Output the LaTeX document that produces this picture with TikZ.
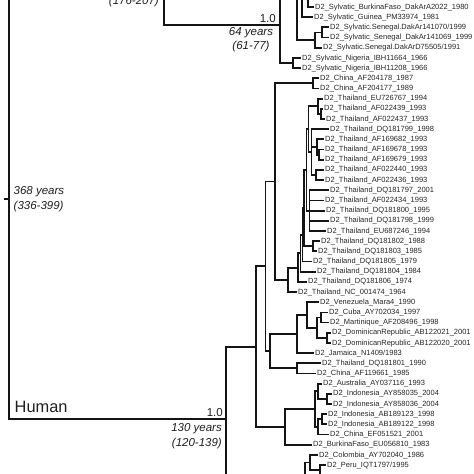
\documentclass[tikz,border=0pt]{standalone}
\usepackage{fontspec}
\setmainfont{Liberation Sans}
\begin{document}
\begin{tikzpicture}[x=1pt,y=-1pt,
  br/.style={line width=1.8pt, line cap=rect, draw=black!92},
  lab/.style={anchor=west, inner xsep=2pt, inner ysep=0pt, font=\fontsize{7.5}{8}\selectfont, text=black!85, text height=5.4pt, text depth=1.2pt},
  ital/.style={font=\fontsize{11.5}{14.5}\selectfont\itshape, inner sep=0pt, text=black!88},
  supp/.style={font=\fontsize{11.5}{13}\selectfont, inner sep=0pt, text=black!88}]
\clip (0,0) rectangle (474,474);
\begin{scope}[yshift=-7pt, y=-10.18pt]
% tip labels
\node[lab] (t0) at (313,0) {D2\_Sylvatic\_BurkinaFaso\_DakArA2022\_1980};
\node[lab] (t1) at (312,1) {D2\_Sylvatic\_Guinea\_PM33974\_1981};
\node[lab] (t2) at (328,2) {D2\_Sylvatic.Senegal.DakAr141070/1999};
\node[lab] (t3) at (328,3) {D2\_Sylvatic\_Senegal\_DakAr141069\_1999};
\node[lab] (t4) at (321,4) {D2\_Sylvatic.Senegal.DakArD75505/1991};
\node[lab] (t5) at (300,5) {D2\_Sylvatic\_Nigeria\_IBH11664\_1966};
\node[lab] (t6) at (300,6) {D2\_Sylvatic\_Nigeria\_IBH11208\_1966};
\node[lab] (t7) at (318,7) {D2\_China\_AF204178\_1987};
\node[lab] (t8) at (318,8) {D2\_China\_AF204177\_1989};
\node[lab] (t9) at (322,9) {D2\_Thailand\_EU726767\_1994};
\node[lab] (t10) at (322,10) {D2\_Thailand\_AF022439\_1993};
\node[lab] (t11) at (324,11) {D2\_Thailand\_AF022437\_1993};
\node[lab] (t12) at (328,12) {D2\_Thailand\_DQ181799\_1998};
\node[lab] (t13) at (323,13) {D2\_Thailand\_AF169682\_1993};
\node[lab] (t14) at (323,14) {D2\_Thailand\_AF169678\_1993};
\node[lab] (t15) at (323,15) {D2\_Thailand\_AF169679\_1993};
\node[lab] (t16) at (323,16) {D2\_Thailand\_AF022440\_1993};
\node[lab] (t17) at (323,17) {D2\_Thailand\_AF022436\_1993};
\node[lab] (t18) at (328,18) {D2\_Thailand\_DQ181797\_2001};
\node[lab] (t19) at (323,19) {D2\_Thailand\_AF022434\_1993};
\node[lab] (t20) at (324,20) {D2\_Thailand\_DQ181800\_1995};
\node[lab] (t21) at (328,21) {D2\_Thailand\_DQ181798\_1999};
\node[lab] (t22) at (325,22) {D2\_Thailand\_EU687246\_1994};
\node[lab] (t23) at (319,23) {D2\_Thailand\_DQ181802\_1988};
\node[lab] (t24) at (316,24) {D2\_Thailand\_DQ181803\_1985};
\node[lab] (t25) at (311,25) {D2\_Thailand\_DQ181805\_1979};
\node[lab] (t26) at (315,26) {D2\_Thailand\_DQ181804\_1984};
\node[lab] (t27) at (306,27) {D2\_Thailand\_DQ181806\_1974};
\node[lab] (t28) at (296,28) {D2\_Thailand\_NC\_001474\_1964};
\node[lab] (t29) at (318,29) {D2\_Venezuela\_Mara4\_1990};
\node[lab] (t30) at (327,30) {D2\_Cuba\_AY702034\_1997};
\node[lab] (t31) at (328,31) {D2\_Martinique\_AF208496\_1998};
\node[lab] (t32) at (330,32) {D2\_DominicanRepublic\_AB122021\_2001};
\node[lab] (t33) at (330,33) {D2\_DominicanRepublic\_AB122020\_2001};
\node[lab] (t34) at (313,34) {D2\_Jamaica\_N1409/1983};
\node[lab] (t35) at (320,35) {D2\_Thailand\_DQ181801\_1990};
\node[lab] (t36) at (315,36) {D2\_China\_AF119661\_1985};
\node[lab] (t37) at (321,37) {D2\_Australia\_AY037116\_1993};
\node[lab] (t38) at (331,38) {D2\_Indonesia\_AY858035\_2004};
\node[lab] (t39) at (331,39) {D2\_Indonesia\_AY858036\_2004};
\node[lab] (t40) at (326,40) {D2\_Indonesia\_AB189123\_1998};
\node[lab] (t41) at (326,41) {D2\_Indonesia\_AB189122\_1998};
\node[lab] (t42) at (328,42) {D2\_China\_EF051521\_2001};
\node[lab] (t43) at (311,43) {D2\_BurkinaFaso\_EU056810\_1983};
\node[lab] (t44) at (317,44) {D2\_Colombia\_AY702040\_1986};
\node[lab] (t45) at (325,45) {D2\_Peru\_IQT1797/1995};
% internal nodes
\coordinate (root) at (9,18.86);
\coordinate (top1) at (9,-3);
\coordinate (stem) at (5,18.86);
\coordinate (n164) at (164,1.77);
\coordinate (n164t) at (164,-3);
\coordinate (S) at (280,1.77);
\coordinate (St) at (280,-3);
\coordinate (Ut) at (297,-3);
\coordinate (Vt) at (302,-3);
\coordinate (Wt) at (308,-3);
\coordinate (sen) at (315,3.25);
\coordinate (p23) at (322,2.5);
\coordinate (nig) at (293,5.5);
\coordinate (H) at (226,40.47);
\coordinate (Hb) at (226,49);
\coordinate (B) at (256,33.37);
\coordinate (C) at (265.5,25.48);
\coordinate (A) at (275,17.15);
\coordinate (china) at (313,7.5);
\coordinate (T0) at (288,26.8);
\coordinate (T1) at (298,25.6);
\coordinate (T2) at (300.5,24.19);
\coordinate (T3) at (302.5,22.38);
\coordinate (Z6) at (304,19.75);
\coordinate (P2324) at (313,23.5);
\coordinate (Z4) at (306.5,16);
\coordinate (Z3) at (309.5,20);
\coordinate (Z2) at (308.5,12);
\coordinate (G1) at (318,9.75);
\coordinate (P1011) at (321,10.5);
\coordinate (Z1) at (311.5,14.25);
\coordinate (G2) at (317,13.75);
\coordinate (P1415) at (319,14.5);
\coordinate (G3) at (316,16.5);
\coordinate (K) at (270,33.81);
\coordinate (X3) at (297,32.125);
\coordinate (X2) at (307,30.25);
\coordinate (X1) at (317,31.5);
\coordinate (P3031) at (321,30.5);
\coordinate (P3233) at (327,32.5);
\coordinate (P3536) at (297,35.5);
\coordinate (cos) at (285,41.25);
\coordinate (AI) at (315,39.5);
\coordinate (AusG) at (318,37.75);
\coordinate (P3839) at (327,38.5);
\coordinate (ABC) at (318,41.25);
\coordinate (P4041) at (322,40.5);
\coordinate (M3) at (305,47);
\coordinate (M3b) at (305,49);
\coordinate (M2) at (310,44.75);
\coordinate (M1) at (320,45.5);
\coordinate (M1b) at (320,49);
% branches: sylvatic
\draw[br] (top1) -- (root) -- (stem);
\draw[br] (root) |- (H);
\draw[br] (n164t) -- (n164) -- (S);
\draw[br] (St) -- (S) |- (nig);
\draw[br] (nig) |- (t5.west);
\draw[br] (nig) |- (t6.west);
\draw[br] (Ut) |- (sen);
\draw[br] (sen) |- (p23);
\draw[br] (sen) |- (t4.west);
\draw[br] (p23) |- (t2.west);
\draw[br] (p23) |- (t3.west);
\draw[br] (Vt) |- (t1.west);
\draw[br] (Wt) |- (t0.west);
% human
\draw[br] (H) |- (B);
\draw[br] (H) -- (Hb);
\draw[br] (B) |- (C);
\draw[br] (B) |- (cos);
\draw[br] (C) |- (A);
\draw[br] (C) |- (K);
\draw[br] (A) |- (china);
\draw[br] (A) |- (T0);
\draw[br] (china) |- (t7.west);
\draw[br] (china) |- (t8.west);
\draw[br] (T0) |- (T1);
\draw[br] (T0) |- (t28.west);
\draw[br] (T1) |- (T2);
\draw[br] (T1) |- (t27.west);
\draw[br] (T2) |- (T3);
\draw[br] (T2) |- (t26.west);
\draw[br] (T3) |- (Z6);
\draw[br] (T3) |- (t25.west);
\draw[br] (Z6) |- (Z4);
\draw[br] (Z6) |- (P2324);
\draw[br] (P2324) |- (t23.west);
\draw[br] (P2324) |- (t24.west);
\draw[br] (Z4) |- (Z2);
\draw[br] (Z4) |- (Z3);
\foreach \i in {18,...,22} {\draw[br] (Z3) |- (t\i.west);}
\draw[br] (Z2) |- (G1);
\draw[br] (Z2) |- (Z1);
\draw[br] (G1) |- (t9.west);
\draw[br] (G1) |- (P1011);
\draw[br] (P1011) |- (t10.west);
\draw[br] (P1011) |- (t11.west);
\draw[br] (Z1) |- (t12.west);
\draw[br] (Z1) |- (G2);
\draw[br] (Z1) |- (G3);
\draw[br] (G2) |- (t13.west);
\draw[br] (G2) |- (P1415);
\draw[br] (P1415) |- (t14.west);
\draw[br] (P1415) |- (t15.west);
\draw[br] (G3) |- (t16.west);
\draw[br] (G3) |- (t17.west);
\draw[br] (K) |- (X3);
\draw[br] (K) |- (P3536);
\draw[br] (X3) |- (X2);
\draw[br] (X3) |- (t34.west);
\draw[br] (X2) |- (t29.west);
\draw[br] (X2) |- (X1);
\draw[br] (X1) |- (P3031);
\draw[br] (X1) |- (P3233);
\draw[br] (P3031) |- (t30.west);
\draw[br] (P3031) |- (t31.west);
\draw[br] (P3233) |- (t32.west);
\draw[br] (P3233) |- (t33.west);
\draw[br] (P3536) |- (t35.west);
\draw[br] (P3536) |- (t36.west);
\draw[br] (cos) |- (AI);
\draw[br] (cos) |- (t43.west);
\draw[br] (AI) |- (AusG);
\draw[br] (AI) |- (ABC);
\draw[br] (AusG) |- (t37.west);
\draw[br] (AusG) |- (P3839);
\draw[br] (P3839) |- (t38.west);
\draw[br] (P3839) |- (t39.west);
\draw[br] (ABC) |- (P4041);
\draw[br] (ABC) |- (t42.west);
\draw[br] (P4041) |- (t40.west);
\draw[br] (P4041) |- (t41.west);
\draw[br] (M3b) -- (M3) |- (M2);
\draw[br] (M2) |- (t44.west);
\draw[br] (M2) |- (M1);
\draw[br] (M1) |- (t45.west);
\draw[br] (M1) -- (M1b);
\end{scope}
% annotations
\node[ital, anchor=east] (a176) at (159,1.5) {(176-207)};
\node[supp, anchor=south east] (s1) at (276,23) {1.0};
\node[ital, align=center, anchor=north] (s64) at (251,27) {64 years\\(61-77)};
\node[ital, align=left, anchor=west] (r368) at (13.5,199) {368 years\\(336-399)};
\node[font=\fontsize{16.4}{18}\selectfont, inner sep=0pt, anchor=west, text=black!88] (hum) at (14.5,407) {Human};
\node[supp, anchor=south east] (h1) at (223,417) {1.0};
\node[ital, align=right, anchor=north east] (h130) at (222,423.5) {130 years\\(120-139)};
\end{tikzpicture}
\end{document}
